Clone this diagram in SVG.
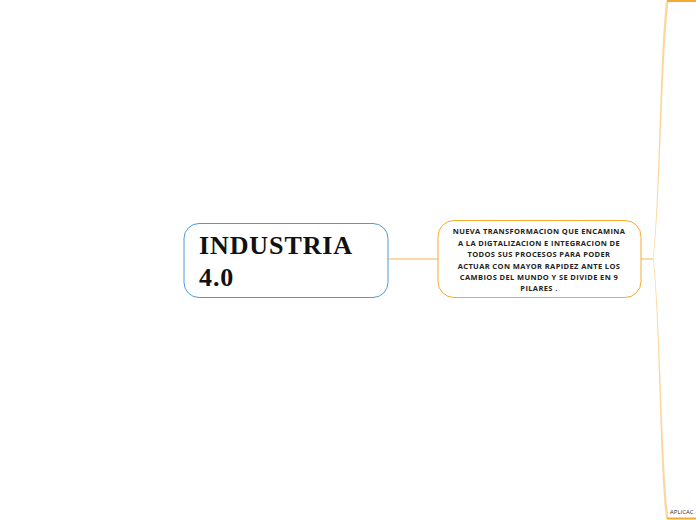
<svg xmlns="http://www.w3.org/2000/svg" width="696" height="520" viewBox="0 0 696 520">
<style>
.conn{fill:none;stroke:#f8b44a;stroke-width:1}
.branch{fill:#fcd79c;stroke:none}
.sub{fill:none;stroke:#f7a830;stroke-width:2}
.t2{font-family:"Open Sans","Noto Sans",sans-serif;font-weight:bold;font-size:7.5px;letter-spacing:0.38px;fill:#222;text-anchor:middle}
</style>
<rect width="696" height="520" fill="#ffffff"/>
<g id="connectors">
<path class="conn" d="M388,259 H438"/>
<path class="conn" d="M641,259 H653"/>
<path class="branch" d="M653,259 C659.5,200 659.5,60 666,1 L668.5,1 C661.5,60 660.5,200 653.6,259 Z"/>
<path class="branch" d="M653,259 C659.5,320 659.5,460 666,519 L668.5,519 C661.5,460 660.5,320 653.6,259 Z"/>
<path class="sub" d="M667,1 H696"/>
<path class="sub" d="M667,518.5 H696"/>
</g>
<g id="node-industria">
<rect x="184" y="223.5" width="204" height="74" rx="15" fill="#ffffff" stroke="#4b9bd8" stroke-width="1"/>
<text x="199" y="254" font-family="'Liberation Serif','Times New Roman',serif" font-weight="bold" font-size="26" letter-spacing="0.9" fill="#111">INDUSTRIA</text>
<text x="199" y="286" font-family="'Liberation Serif','Times New Roman',serif" font-weight="bold" font-size="26" letter-spacing="0.9" fill="#111">4.0</text>
</g>
<g id="node-definicion">
<rect x="438" y="220.5" width="203" height="77" rx="16" fill="#ffffff" stroke="#f7a830" stroke-width="1"/>
<text class="t2" x="539" y="234">NUEVA TRANSFORMACION QUE ENCAMINA</text>
<text class="t2" x="539" y="245.5">A LA DIGTALIZACION E INTEGRACION DE</text>
<text class="t2" x="539" y="257">TODOS SUS PROCESOS PARA PODER</text>
<text class="t2" x="539" y="268.5">ACTUAR CON MAYOR RAPIDEZ ANTE LOS</text>
<text class="t2" x="539" y="279.5">CAMBIOS DEL MUNDO Y SE DIVIDE EN 9</text>
<text class="t2" x="539" y="290.5">PILARES .</text>
</g>
<g id="node-aplicac">
<text x="670" y="514" font-family="'Open Sans','Noto Sans',sans-serif" font-size="6" fill="#333">APLICAC</text>
</g>
</svg>
